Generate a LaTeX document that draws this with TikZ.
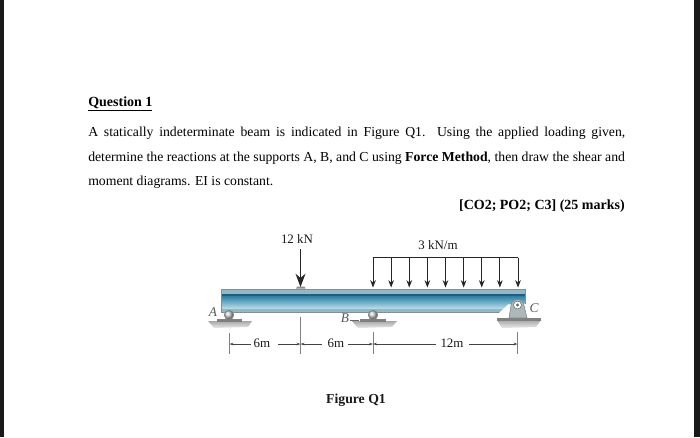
\documentclass[tikz,border=0pt]{standalone}
\usepackage{fontspec}
\setmainfont{Liberation Serif}
\usetikzlibrary{arrows.meta}
\definecolor{beamA}{HTML}{2F7FA6}
\definecolor{beamB}{HTML}{BFE0EA}
\definecolor{flange}{HTML}{8FB9C8}
\definecolor{web}{HTML}{1D5F80}
\definecolor{dimc}{HTML}{444444}
\definecolor{ground}{HTML}{A8A8A8}
\definecolor{supp}{HTML}{8A9A9C}
\tikzset{
 x=0.75pt,y=-0.75pt,
 body/.style={anchor=base west,font=\fontsize{10.3pt}{12pt}\selectfont,inner sep=0pt,text=black},
 lab/.style={anchor=base,font=\fontsize{9.7pt}{11pt}\selectfont,inner sep=0pt,text=black!90},
 letter/.style={anchor=base,font=\fontsize{10pt}{11pt}\selectfont\itshape,inner sep=0pt,text=black!65},
 load/.style={draw=black!85,line width=0.6pt,-{Stealth[length=5.5pt,width=4.2pt]}},
 dimline/.style={draw=dimc,line width=0.5pt},
 dimtick/.style={draw=black!50,line width=0.6pt},
 grd/.style={top color=ground,bottom color=ground!25,draw=none},
 plate/.style={fill=black!50,draw=none},
 ball/.style={circle,inner sep=0pt,minimum size=7pt,draw=black!50,line width=0.5pt,ball color=black!20},
}
\begin{document}
\begin{tikzpicture}
\useasboundingbox (0,0) rectangle (700,437);
\fill[white] (0,0) rectangle (700,437);
\fill[black!90] (0,0) rectangle (4,437);
\fill[black!90] (694,0) rectangle (700,437);
% text
\node[body,font=\fontsize{10.5pt}{12pt}\selectfont\bfseries] (q) at (88,106) {\underline{Question 1}};
\node[body] (l1) at (88,136) {\hbox to 402.75pt{A statically indeterminate beam is indicated in Figure Q1. Using the applied loading given,}};
\node[body] (l2) at (88,161) {determine the reactions at the supports A, B, and C using \textbf{Force Method}, then draw the shear and};
\node[body] (l3) at (88,185) {moment diagrams. EI is constant.};
\node[body,font=\fontsize{10.5pt}{12pt}\selectfont\bfseries,anchor=base east] (co) at (625,209) {[CO2; PO2; C3] (25 marks)};
% beam
\fill[flange] (221.5,289) rectangle (525,294);
\fill[web] (221.5,294) rectangle (525,296);
\shade[top color=beamA,bottom color=beamB] (221.5,296) rectangle (525,309);
\fill[flange] (221.5,309) rectangle (525,312);
\draw[black!45,line width=0.4pt] (221.5,289) rectangle (525,312);
\fill[white] (499,313) -- (508,304.5) -- (526,303.5) -- (526,313) -- cycle;
\draw[black!45,line width=0.4pt] (525,289) -- (525,303.5);
% loads
\coordinate (p0) at (300.5,249);
\fill[black!45] (296,288.5) -- (297,286.5) -- (304.5,286.5) -- (305.5,288.5) -- cycle;
\coordinate (p1) at (300.5,287);
\draw[load,line width=0.9pt,-{Stealth[length=10pt,width=7.5pt]}] (p0) -- (p1);
\node[lab] (f) at (297,243) {12 kN};
\node[lab] (w) at (438,249) {3 kN/m};
\coordinate (wl) at (373,257.5);
\coordinate (wr) at (518,257.5);
\draw[black!85,line width=0.6pt] (wl) -- (wr);
\foreach \i in {0,...,8}{
  \coordinate (t\i) at ({373+\i*18.125},257.5);
  \coordinate (b\i) at ({373+\i*18.125},287.5);
  \draw[load] (t\i) -- (b\i);
}
% support A
\shade[grd] (208,321) -- (252,321) -- (248,327) -- (214,328) -- cycle;
\fill[plate] (217,319) rectangle (242,322);
\node[ball] (ba) at (229,315) {};
\node[letter] (a) at (213,316) {A};
% support B
\shade[grd] (352,321) -- (397,321) -- (392,327) -- (358,328) -- cycle;
\fill[plate] (360,319) rectangle (386,322);
\node[ball] (bb) at (373,315) {};
\node[letter] (b) at (345,322) {B};
\draw[black!60,line width=0.5pt] (350,320) -- (359,320);
% support C
\shade[grd] (497,320) -- (541,320) -- (536,327) -- (502,328) -- cycle;
\fill[plate] (497,318) rectangle (541,320.5);
\fill[supp!70!white,draw=black!50,line width=0.4pt] (509,318) -- (511,305.5) arc (180:0:6.5 and -6) -- (527,318) -- cycle;
\fill[white,draw=black!60,line width=0.4pt] (517.5,305) circle (4);
\fill[black!60] (517.5,305) circle (1.6);
\node[letter] (c) at (534,312) {C};
% dimensions
\coordinate (d0) at (229.5,333); \coordinate (d0b) at (229.5,354);
\coordinate (d1) at (300.5,317); \coordinate (d1b) at (300.5,354);
\coordinate (d2) at (373,332); \coordinate (d2b) at (373,354);
\coordinate (d3) at (517.5,332); \coordinate (d3b) at (517.5,354);
\foreach \n in {0,1,2,3}{\draw[dimtick] (d\n) -- (d\n b);}
\node[lab] (m1) at (262,347) {6m};
\node[lab] (m2) at (336,347) {6m};
\node[lab] (m3) at (452,347) {12m};
\tikzset{dt/.style={{Stealth[length=3pt,width=2pt]}-},td/.style={-{Stealth[length=3pt,width=2pt]}}}
\coordinate (y0) at (229.5,344); \coordinate (y0e) at (251,344);
\coordinate (y1) at (278,344); \coordinate (y1e) at (300.5,344);
\coordinate (y2) at (300.5,344); \coordinate (y2e) at (322,344);
\coordinate (y3) at (348,344); \coordinate (y3e) at (373,344);
\coordinate (y4) at (373,344); \coordinate (y4e) at (436,344);
\coordinate (y5) at (469,344); \coordinate (y5e) at (517.5,344);
\draw[dimline,dt] (y0) -- (y0e);
\draw[dimline,td] (y1) -- (y1e);
\draw[dimline,dt] (y2) -- (y2e);
\draw[dimline,td] (y3) -- (y3e);
\draw[dimline,dt] (y4) -- (y4e);
\draw[dimline,td] (y5) -- (y5e);
\node[lab,font=\fontsize{10.3pt}{12pt}\selectfont\bfseries] (fig) at (356,403) {Figure Q1};
\end{tikzpicture}
\end{document}
